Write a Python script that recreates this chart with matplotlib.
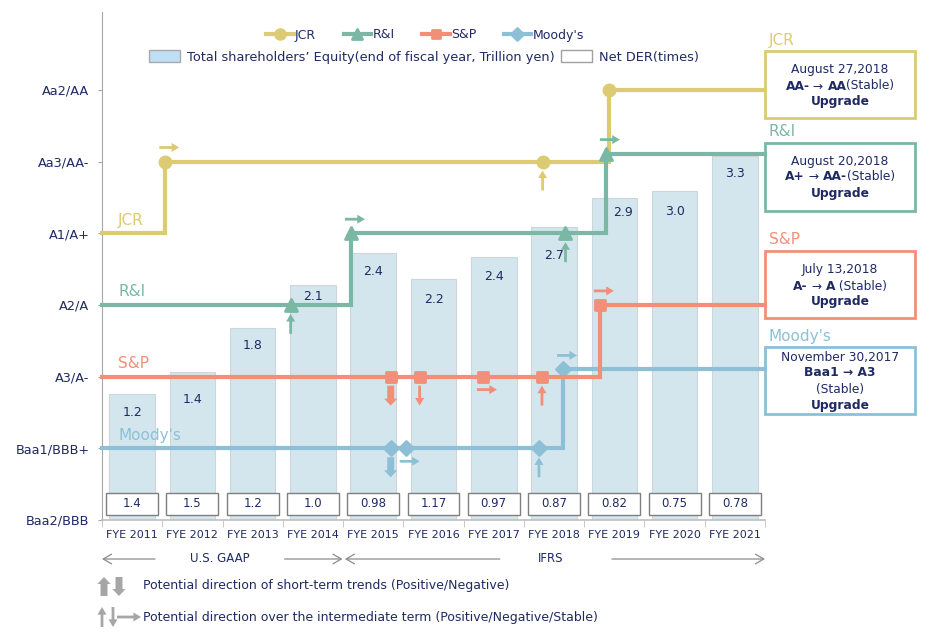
import matplotlib
matplotlib.use("Agg")
import numpy as np
import matplotlib.pyplot as plt
from matplotlib.lines import Line2D
from matplotlib.markers import MarkerStyle
from matplotlib.patches import Patch, Rectangle, FancyArrowPatch
from matplotlib.transforms import offset_copy

plt.rcParams['font.family'] = ['DejaVu Sans']

# ---- data ----
years = ['FYE 2011', 'FYE 2012', 'FYE 2013', 'FYE 2014', 'FYE 2015', 'FYE 2016',
         'FYE 2017', 'FYE 2018', 'FYE 2019', 'FYE 2020', 'FYE 2021']
equity = [1.15, 1.35, 1.75, 2.14, 2.43, 2.19, 2.39, 2.66, 2.93, 2.99, 3.31]
equity_labels = ['1.2', '1.4', '1.8', '2.1', '2.4', '2.2', '2.4', '2.7', '2.9', '3.0', '3.3']
net_der = ['1.4', '1.5', '1.2', '1.0', '0.98', '1.17', '0.97', '0.87', '0.82', '0.75', '0.78']
rating_labels = ['Baa2/BBB', 'Baa1/BBB+', 'A3/A-', 'A2/A', 'A1/A+', 'Aa3/AA-', 'Aa2/AA']

# rating history: x = fiscal-year position (FYE 2011 = 0), y = rating notch (Baa2/BBB = 0)
jcr_x = [-0.5, 0.55, 0.55, 7.91, 7.91, 10.5]
jcr_y = [4, 4, 5, 5, 6, 6]
jcr_mx = [0.55, 6.81, 7.91]
jcr_my = [5, 5, 6]

ri_x = [-0.5, 3.63, 3.63, 7.86, 7.86, 10.5]
ri_y = [3, 3, 4, 4, 5.11, 5.11]
ri_mx = [2.63, 3.63, 7.19, 7.86]
ri_my = [3, 4, 4, 5.11]

sp_x = [-0.5, 7.76, 7.76, 10.5]
sp_y = [2, 2, 3, 3]
sp_mx = [4.29, 4.77, 5.82, 6.80, 7.76]
sp_my = [2, 2, 2, 2, 3]

md_x = [-0.5, 7.15, 7.15, 10.5]
md_y = [1, 1, 2.1, 2.1]
md_mx = [4.29, 4.54, 6.75, 7.15]
md_my = [1, 1, 1, 2.1]

# outlooks: (x, notch, direction, thick?, side)
jcr_out = [(0.55, 5, 'right', False, 'above'), (6.81, 5, 'up', False, 'below')]
ri_out = [(2.63, 3, 'up', False, 'below'), (3.63, 4, 'right', False, 'above'),
          (7.19, 4, 'up', False, 'below'), (7.86, 5.11, 'right', False, 'above')]
sp_out = [(4.29, 2, 'down', True, 'below'), (4.77, 2, 'down', False, 'below'),
          (5.82, 2, 'right', False, 'below'), (6.80, 2, 'up', False, 'below'),
          (7.76, 3, 'right', False, 'above')]
md_out = [(4.29, 1, 'down', True, 'below'), (4.54, 1, 'right', False, 'below'),
          (6.75, 1, 'up', False, 'below'), (7.15, 2.1, 'right', False, 'above')]

# rating actions shown in the side boxes
jcr_note = ['August 27,2018', [('AA-', 'bold'), (' \u2192 ', 'normal'), ('AA', 'bold'), ('(Stable)', 'normal')], 'Upgrade']
ri_note = ['August 20,2018', [('A+', 'bold'), (' \u2192 ', 'normal'), ('AA-', 'bold'), ('(Stable)', 'normal')], 'Upgrade']
sp_note = ['July 13,2018', [('A-', 'bold'), (' \u2192 ', 'normal'), ('A', 'bold'), (' (Stable)', 'normal')], 'Upgrade']
md_note = ['November 30,2017', [('Baa1 \u2192 A3', 'bold')], '(Stable)', 'Upgrade']

# ---- style ----
W, H = 927, 637
navy = '#1f2a63'
c_jcr = '#dccb72'
c_ri = '#7ab8a5'
c_sp = '#f38e78'
c_md = '#8dc0d6'
grey = '#a6a6a6'
label_dy = [-19, -28, -18, -12, -19, -20, -19, -28, -15, -20, -18]
label_dx = [0, 0, 0, 0, 0, 0, 0, 0, 9, 0, 0]
thin = 'simple,head_length=0.55,head_width=0.65,tail_width=0.2'
thick = 'simple,head_length=0.5,head_width=0.95,tail_width=0.5'

fig = plt.figure(figsize=(W / 100, H / 100), dpi=100)
ax = fig.add_axes([102 / W, 1 - 520 / H, (765 - 102) / W, (520 - 12) / H])
ax2 = ax.twinx()
ax.set_zorder(ax2.get_zorder() + 1)
ax.patch.set_visible(False)


def fx(px):
    return px / W


def fy(py):
    return 1 - py / H


# bars (equity)
xs = np.arange(len(years))
ax2.bar(xs, equity, width=0.755, color='#d3e6ee', edgecolor='#cdd6da', linewidth=0.8)
ax2.set_ylim(0, 508 / 110)
ax2.axis('off')
for i, v in enumerate(equity):
    ax2.annotate(equity_labels[i], (i, v), xytext=(label_dx[i], label_dy[i]),
                 textcoords='offset pixels', ha='center', va='center', fontsize=9, color=navy)

ax.set_xlim(-0.5, 10.5)
ax.set_ylim(0, 508 / 71.7)

# rating lines
series = [
    (jcr_x, jcr_y, jcr_mx, jcr_my, jcr_out, c_jcr, 'o', 8, 3, 'JCR'),
    (md_x, md_y, md_mx, md_my, md_out, c_md, 'D', 7, 3, "Moody's"),
    (sp_x, sp_y, sp_mx, sp_my, sp_out, c_sp, 's', 6.5, 4, 'S&P'),
    (ri_x, ri_y, ri_mx, ri_my, ri_out, c_ri, '^', 8.5, 5, 'R&I'),
]
for lx, ly, mx, my, outs, c, m, ms, z, name in series:
    ax.plot(lx, ly, color=c, lw=3, zorder=z, solid_joinstyle='miter', clip_on=False)
    ax.plot(mx, my, linestyle='none', marker=MarkerStyle(m, joinstyle='round'), ms=ms,
            mew=2, color=c, zorder=z + 0.5)
    ax.annotate(name, (-0.5, ly[0]), xytext=(16, 13), textcoords='offset pixels',
                ha='left', va='center', fontsize=11, color=c)
    for ox, oy, d, big, side in outs:
        if d == 'right':
            off = 14 if side == 'above' else -13
            x0, y0, x1, y1 = -6, off, 14, off
        elif d == 'up':
            x0, y0, x1, y1 = 0, -29, 0, -9
        else:
            x0, y0, x1, y1 = 0, -9, 0, -29
        tr = offset_copy(ax.transData, fig=fig, x=x1, y=y1, units='dots')
        ax.annotate('', xy=(ox, oy), xycoords=tr, xytext=(x0 - x1, y0 - y1),
                    textcoords='offset pixels',
                    arrowprops=dict(arrowstyle=thick if big else thin, color=c, lw=0,
                                    shrinkA=0, shrinkB=0, mutation_scale=10), zorder=z)

# net DER boxes
for i, d in enumerate(net_der):
    ax.add_patch(Rectangle((i - 0.43, 0.07), 0.86, 0.31, fc='white', ec='#7f7f7f',
                           lw=1, zorder=6))
    ax.text(i, 0.225, d, ha='center', va='center', fontsize=8.5, color=navy, zorder=7)

# axes styling
ax.set_yticks(range(len(rating_labels)), rating_labels)
ax.set_xticks(xs, years)
ax.set_xticks(np.arange(-0.5, 11, 1), minor=True)
ax.tick_params(axis='y', length=3, color=grey, labelsize=9.3, labelcolor=navy, pad=6)
ax.tick_params(axis='x', which='major', length=0, labelsize=8, labelcolor=navy, pad=7)
ax.tick_params(axis='x', which='minor', length=5, color='#bfbfbf')
for s in ('top', 'right'):
    ax.spines[s].set_visible(False)
ax.spines['left'].set_color(grey)
ax.spines['bottom'].set_color('#bfbfbf')
ax.spines['bottom'].set_linewidth(1.2)

# accounting standard arrows
yb = -39 / 508
arr = dict(arrowstyle='->,head_length=0.6,head_width=0.35', color='#8c8c8c', lw=0.9,
           shrinkA=0, shrinkB=0)
for a, b in [(0.38, -0.5), (2.53, 3.49), (6.1, 3.53), (7.96, 10.5)]:
    ax.annotate('', xy=(b, yb), xycoords=('data', 'axes fraction'),
                xytext=(a, yb), textcoords=('data', 'axes fraction'), arrowprops=arr)
ax.text(1.46, yb, 'U.S. GAAP', transform=ax.get_xaxis_transform(), ha='center',
        va='center', fontsize=8.5, color=navy)
ax.text(6.95, yb, 'IFRS', transform=ax.get_xaxis_transform(), ha='center',
        va='center', fontsize=8.5, color=navy)

# top legends
h1 = [Line2D([], [], color=c, lw=3, marker=MarkerStyle(m, joinstyle='round'), ms=ms, mew=2)
      for c, m, ms in [(c_jcr, 'o', 7), (c_ri, '^', 7), (c_sp, 's', 6), (c_md, 'D', 6)]]
fig.legend(h1, ['JCR', 'R&I', 'S&P', "Moody's"], ncol=4, loc='center',
           bbox_to_anchor=(fx(425), fy(35)), frameon=False, fontsize=9, labelcolor=navy,
           handlelength=2.2, columnspacing=2.2, handletextpad=0.1)
h2 = [Patch(fc='#c0dff4', ec='#a9a9a9'), Patch(fc='white', ec='#a0a0a0')]
fig.legend(h2, ['Total shareholders\u2019 Equity(end of fiscal year, Trillion yen)', 'Net DER(times)'],
           ncol=2, loc='center', bbox_to_anchor=(fx(424), fy(57)), frameon=False,
           fontsize=9.3, labelcolor=navy, handlelength=2.4, handleheight=1.0,
           columnspacing=0.5, handletextpad=0.5)

# side boxes
renderer = fig.canvas.get_renderer()


def rich_line(pieces, cx, cy, size=8.8):
    texts = [fig.text(0, 0, s, fontsize=size, fontweight=w, color=navy, ha='left', va='center')
             for s, w in pieces]
    widths = [t.get_window_extent(renderer).width for t in texts]
    x = cx - sum(widths) / 2
    for t, w in zip(texts, widths):
        t.set_position((fx(x), fy(cy)))
        x += w


boxes = [
    (jcr_note, c_jcr, 'JCR', 51, 118, [70, 86, 102]),
    (ri_note, c_ri, 'R&I', 143, 211, [162, 177, 193]),
    (sp_note, c_sp, 'S&P', 251, 318, [270, 286, 302]),
    (md_note, c_md, "Moody's", 347, 414, [357, 373, 389, 405]),
]
for note, c, name, top, bot, ys in boxes:
    fig.add_artist(Rectangle((fx(765), fy(bot)), fx(915) - fx(765), fy(top) - fy(bot),
                             transform=fig.transFigure, fc='white', ec=c, lw=2))
    fig.text(fx(769), fy(top - 11), name, fontsize=11, color=c, ha='left', va='center')
    for line, y in zip(note, ys):
        if isinstance(line, list):
            rich_line(line, 840, y)
        else:
            w = 'bold' if line == 'Upgrade' else 'normal'
            rich_line([(line, w)], 840, y)


# bottom key
def key_arrow(x0, y0, x1, y1, big):
    fig.add_artist(FancyArrowPatch((fx(x0), fy(y0)), (fx(x1), fy(y1)),
                                   transform=fig.transFigure,
                                   arrowstyle=thick if big else thin,
                                   mutation_scale=10, color=grey, lw=0,
                                   shrinkA=0, shrinkB=0))


key_arrow(104, 596, 104, 577, True)
key_arrow(119, 577, 119, 596, True)
key_arrow(102, 627, 102, 607, False)
key_arrow(113, 607, 113, 627, False)
key_arrow(117, 617, 141, 617, False)
fig.text(fx(143), fy(586), 'Potential direction of short-term trends (Positive/Negative)',
         fontsize=9, color=navy, va='center')
fig.text(fx(143), fy(617), 'Potential direction over the intermediate term (Positive/Negative/Stable)',
         fontsize=9, color=navy, va='center')

fig.savefig('out.png', dpi=100)
